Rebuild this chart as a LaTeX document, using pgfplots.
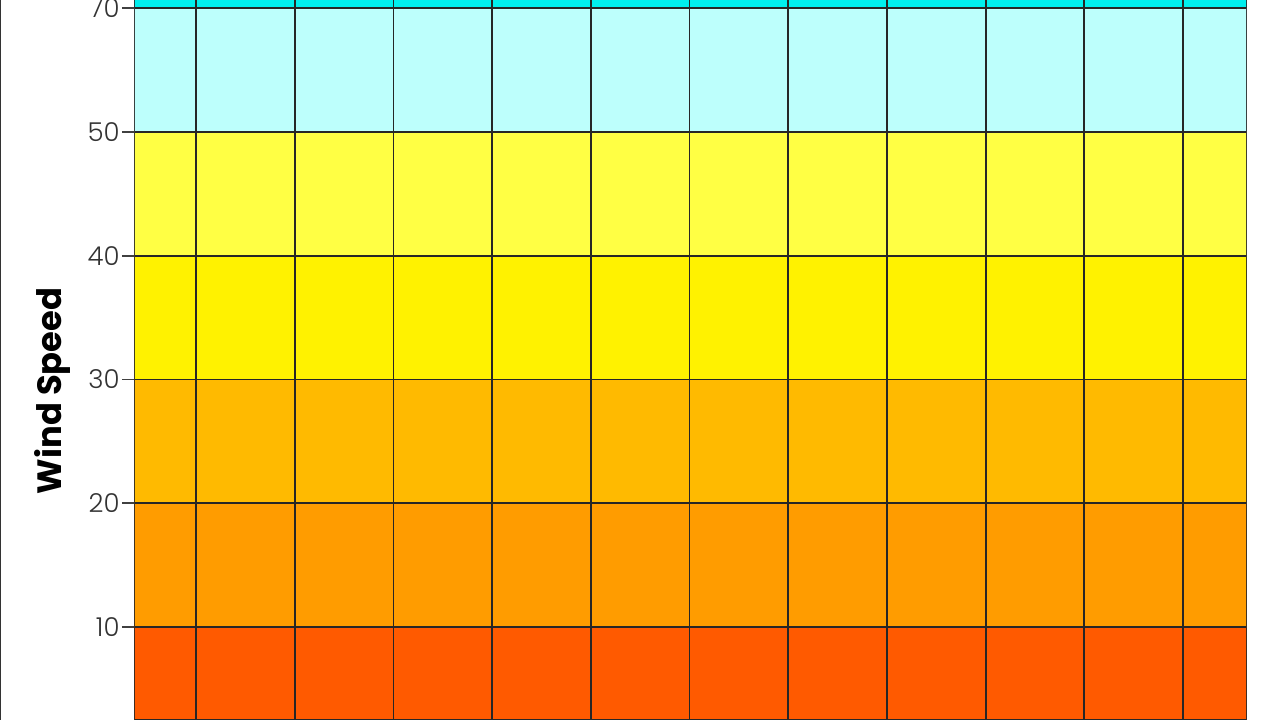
\documentclass[border=0pt]{standalone}
\usepackage{pgfplots}
\pgfplotsset{compat=1.18}
\usepackage{fontspec}
\setmainfont{Poppins}
\newfontfamily\lightfont{Poppins Light}
\definecolor{b0}{HTML}{FF5A00}
\definecolor{b1}{HTML}{FF9C00}
\definecolor{b2}{HTML}{FFBA00}
\definecolor{b3}{HTML}{FFF200}
\definecolor{b4}{HTML}{FFFF44}
\definecolor{b5}{HTML}{BDFFFC}
\definecolor{b6}{HTML}{00EEEE}
\begin{document}
\begin{tikzpicture}
\begin{axis}[
  at={(0,0)}, anchor=south west,
  scale only axis, width=111.1mm, height=72mm,
  xmin=0.882, xmax=12.138, ymin=2.5, ymax=60.65,
  ybar stacked, bar width=1,
  separate axis lines,
  x axis line style={draw=none},
  y axis line style={draw=black!85, line width=0.6pt},
  xtick=\empty,
  ytick={10,20,30,40,50,60},
  yticklabels={10,20,30,40,50,70},
  ytick pos=left, tick align=outside,
  major tick length=1.3mm,
  tick style={draw=black!75, line width=0.5pt},
  /pgf/number format/assume math mode=true,
  yticklabel style={font=\lightfont\fontsize{7.4}{8}\selectfont, text=black!80, xshift=1mm},
  ylabel={Wind Speed},
  ylabel style={at={(axis description cs:-0.0747,0.457)}, anchor=center, font=\bfseries\fontsize{9.6}{11}\selectfont},
  clip=true,
]
\addplot[fill=b0, draw=black!85, line width=0.5pt] coordinates {(1,10)(2,10)(3,10)(4,10)(5,10)(6,10)(7,10)(8,10)(9,10)(10,10)(11,10)(12,10)};
\addplot[fill=b1, draw=black!85, line width=0.5pt] coordinates {(1,10)(2,10)(3,10)(4,10)(5,10)(6,10)(7,10)(8,10)(9,10)(10,10)(11,10)(12,10)};
\addplot[fill=b2, draw=black!85, line width=0.5pt] coordinates {(1,10)(2,10)(3,10)(4,10)(5,10)(6,10)(7,10)(8,10)(9,10)(10,10)(11,10)(12,10)};
\addplot[fill=b3, draw=black!85, line width=0.5pt] coordinates {(1,10)(2,10)(3,10)(4,10)(5,10)(6,10)(7,10)(8,10)(9,10)(10,10)(11,10)(12,10)};
\addplot[fill=b4, draw=black!85, line width=0.5pt] coordinates {(1,10)(2,10)(3,10)(4,10)(5,10)(6,10)(7,10)(8,10)(9,10)(10,10)(11,10)(12,10)};
\addplot[fill=b5, draw=black!85, line width=0.5pt] coordinates {(1,10)(2,10)(3,10)(4,10)(5,10)(6,10)(7,10)(8,10)(9,10)(10,10)(11,10)(12,10)};
\addplot[fill=b6, draw=black!85, line width=0.5pt] coordinates {(1,10)(2,10)(3,10)(4,10)(5,10)(6,10)(7,10)(8,10)(9,10)(10,10)(11,10)(12,10)};
\end{axis}
\pgfresetboundingbox
\path[use as bounding box] (-13.5mm,0) rectangle (114.5mm,72mm);
\draw[black!80, line width=0.4pt] (-13.45mm,0) -- (-13.45mm,72mm);
\end{tikzpicture}
\end{document}
